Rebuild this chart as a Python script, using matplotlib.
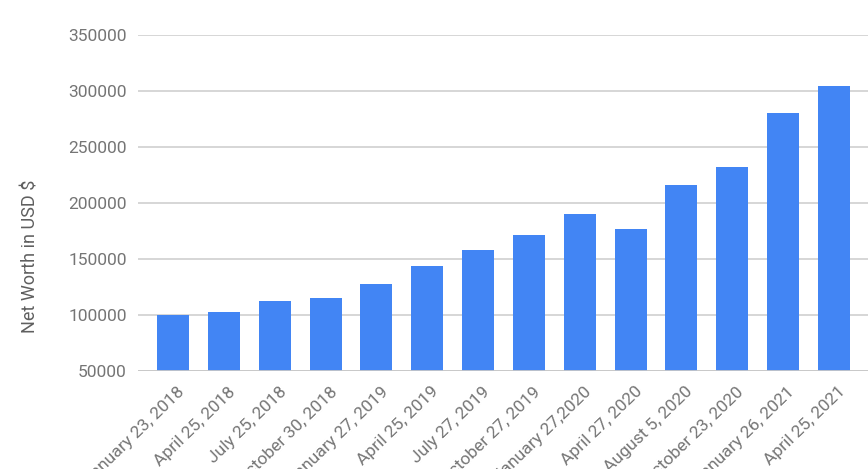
import matplotlib
matplotlib.use("Agg")
import matplotlib.pyplot as plt
import matplotlib.transforms as mtransforms

dates = ["January 23, 2018", "April 25, 2018", "July 25, 2018", "October 30, 2018",
         "January 27, 2019", "April 25, 2019", "July 27, 2019", "October 27, 2019",
         "January 27,2020", "April 27, 2020", "August 5, 2020", "October 23, 2020",
         "January 26, 2021", "April 25, 2021"]
net_worth = [100000, 103000, 112500, 115500, 127400, 143500, 158300, 171700,
             190500, 176800, 215800, 231900, 280400, 304500]
yticks = [50000, 100000, 150000, 200000, 250000, 300000, 350000]

plt.rcParams['font.family'] = ['Roboto', 'DejaVu Sans']

fig = plt.figure(figsize=(8.68, 4.69), dpi=100)
ax = fig.add_axes([138/868, (469-371)/469, 1 - 138/868, (371-35)/469])

x = list(range(len(dates)))
ax.bar(x, net_worth, width=0.63, color='#4285F4', bottom=0, zorder=3)

ax.set_ylim(50000, 350000)
ax.set_xlim(-0.69, 13.67)
ax.set_yticks(yticks)
ax.set_yticklabels([str(v) for v in yticks], fontsize=12.5, color='#757575')
ax.yaxis.grid(True, color='#d0d0d0', linewidth=1.2, zorder=0)
ax.axhline(50000, color='#c8c8c8', linewidth=2, zorder=4)
ax.set_xticks(x)
ax.set_xticklabels([])
ax.tick_params(axis='both', length=0)
ax.tick_params(axis='y', pad=8)

trans = mtransforms.blended_transform_factory(ax.transData, ax.transAxes) + \
    mtransforms.ScaledTranslation(4/100, -13/100, fig.dpi_scale_trans)
for xi, lbl in zip(x, dates):
    ax.text(xi, 0, lbl, transform=trans, rotation=44, ha='right', va='top',
            rotation_mode='anchor', fontsize=12.5, color='#757575', clip_on=False)

for s in ax.spines.values():
    s.set_visible(False)
ax.set_ylabel("Net Worth in USD $", fontsize=13, color='#5f5f5f')
ax.yaxis.set_label_coords(-0.1356, 0.342)

fig.savefig("out.png", dpi=100)
